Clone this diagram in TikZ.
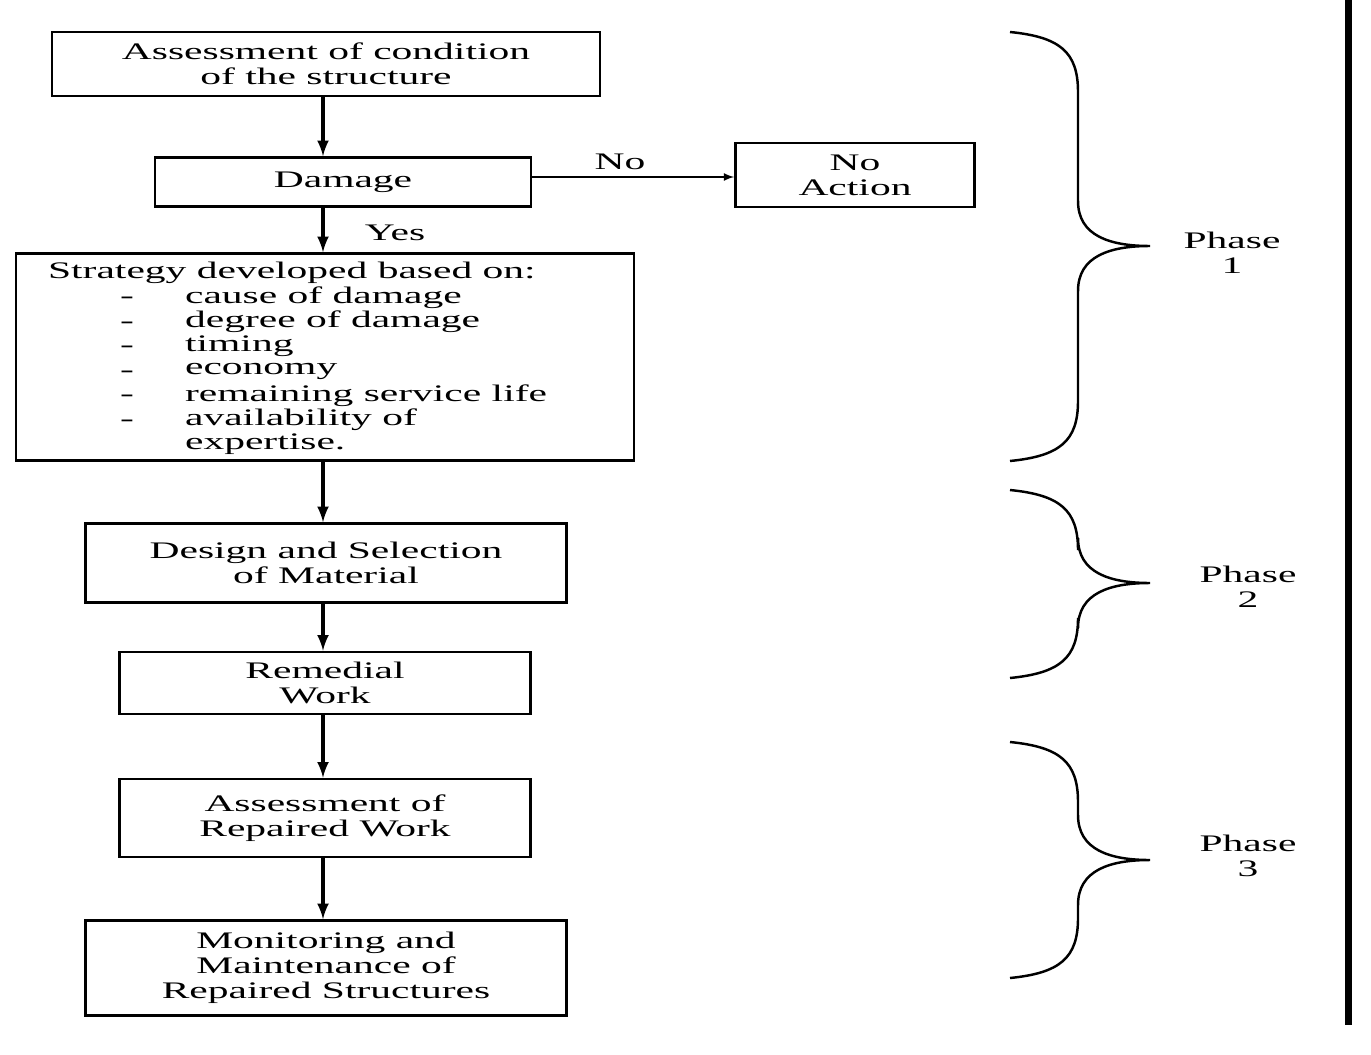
\documentclass[tikz,border=0pt]{standalone}
\usepackage{fontspec}
\setmainfont{Liberation Serif}[FakeStretch=1.75]
\begin{document}
\begin{tikzpicture}[x=0.02cm,y=-0.02cm,
  box/.style={draw,line width=1.6pt,align=center,inner sep=0pt,font=\fontsize{13.5}{14.2}\selectfont},
  arr/.style={line width=2pt,-latex},
  lbl/.style={font=\fontsize{13.5}{14.2}\selectfont,align=center,inner sep=1pt},
  br/.style={line width=1.4pt}]
\useasboundingbox (0,0) rectangle (1371,1054);
\node[box,minimum width=10.96cm,minimum height=1.28cm] (a) at (326,64) {Assessment of condition\\of the structure};
\node[box,minimum width=7.52cm,minimum height=0.98cm] (d) at (343,182) {Damage};
\node[box,minimum width=4.78cm,minimum height=1.28cm] (n) at (855,175) {No\\Action};
\node[box,minimum width=12.36cm,minimum height=4.14cm] (s) at (325,357) {};
\node[lbl,anchor=west] (s0) at (46,273) {Strategy developed based on:};
\foreach \t [count=\i] in {cause of damage,degree of damage,timing,economy,remaining service life,availability of,expertise.}{
  \node[lbl,anchor=west] (si\i) at (183,273+24.5*\i) {\t};
}
\foreach \i in {1,...,6}{\node[lbl] (sd\i) at (127,276+24.5*\i) {-};}
\node[box,minimum width=9.62cm,minimum height=1.58cm] (e) at (326,563) {Design and Selection\\of Material};
\node[box,minimum width=8.22cm,minimum height=1.24cm] (r) at (325,683) {Remedial\\Work};
\node[box,minimum width=8.22cm,minimum height=1.56cm] (p) at (325,818) {Assessment of\\Repaired Work};
\node[box,minimum width=9.62cm,minimum height=1.9cm] (m) at (326,968) {Monitoring and\\Maintenance of\\Repaired Structures};
\draw[arr] (a.south -| 323,0) -- (d.north -| 323,0);
\draw[arr] (d.south -| 323,0) -- (s.north -| 323,0);
\draw[arr] (s.south -| 323,0) -- (e.north -| 323,0);
\draw[arr] (e.south -| 323,0) -- (r.north -| 323,0);
\draw[arr] (r.south -| 323,0) -- (p.north -| 323,0);
\draw[arr] (p.south -| 323,0) -- (m.north -| 323,0);
\draw[line width=1pt,-latex] (d.east |- 0,177) -- (n.west |- 0,177);
\node[lbl] (no) at (620,162) {No};
\node[lbl] (yes) at (395,233) {Yes};
\draw[line width=4pt] (1348,0) -- (1348,1025);
\foreach \t/\b/\m in {32/461/246, 490/678/583, 742/978/860}{
  \draw[br] (1010,\t) .. controls (1060,\t+5) and (1078,\t+20) .. (1078,\t+60)
    -- (1078,\m-45) .. controls (1078,\m-10) and (1110,\m) .. (1150,\m)
    .. controls (1110,\m) and (1078,\m+10) .. (1078,\m+45)
    -- (1078,\b-60) .. controls (1078,\b-20) and (1060,\b-5) .. (1010,\b);
}
\node[lbl] (p1) at (1232,253) {Phase\\1};
\node[lbl] (p2) at (1248,587) {Phase\\2};
\node[lbl] (p3) at (1248,856) {Phase\\3};
\end{tikzpicture}
\end{document}
